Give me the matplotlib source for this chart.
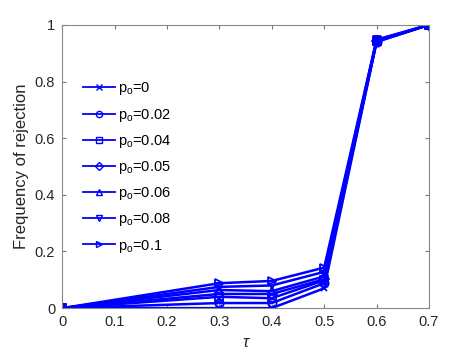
import matplotlib.pyplot as plt
import numpy as np

plt.rcParams['font.family'] = ['Liberation Sans', 'DejaVu Sans']
plt.rcParams['mathtext.default'] = 'regular'

tau = [0, 0.3, 0.4, 0.5, 0.6, 0.7]
p_o = ['0', '0.02', '0.04', '0.05', '0.06', '0.08', '0.1']
markers = ['x', 'o', 's', 'D', '^', 'v', '>']

# frequency of rejection for each p_o
freq = [
    [0, 0.000, 0.000, 0.070, 0.940, 1.0],
    [0, 0.018, 0.018, 0.088, 0.940, 1.0],
    [0, 0.040, 0.035, 0.098, 0.942, 1.0],
    [0, 0.050, 0.050, 0.102, 0.943, 1.0],
    [0, 0.064, 0.060, 0.112, 0.944, 1.0],
    [0, 0.075, 0.080, 0.128, 0.946, 1.0],
    [0, 0.088, 0.096, 0.143, 0.948, 1.0],
]

fig = plt.figure(figsize=(4.74, 3.55), dpi=100)
ax = fig.add_axes([0.131, 0.132, 0.774, 0.798])

for lab, m, y in zip(p_o, markers, freq):
    ms = 5 if m in ('x', 'D') else 6
    ax.plot(tau, y, color='blue', lw=1.8, marker=m, ms=ms,
            mfc='none', mec='blue', mew=1.3,
            label=r'p$_{o}$=' + lab)

ax.set_xlim(0, 0.7)
ax.set_ylim(0, 1)
ax.set_xticks(np.arange(0, 0.71, 0.1))
ax.set_xticklabels(['0', '0.1', '0.2', '0.3', '0.4', '0.5', '0.6', '0.7'])
ax.set_yticks([0, 0.2, 0.4, 0.6, 0.8, 1])
ax.set_yticklabels(['0', '0.2', '0.4', '0.6', '0.8', '1'])
ax.tick_params(direction='in', top=True, right=True, length=3,
               labelsize=10.5, colors='#777777', labelcolor='#262626', pad=5)
for s in ax.spines.values():
    s.set_color('#888888')
    s.set_linewidth(0.8)

ax.set_xlabel('τ', fontsize=12, style='italic', color='#262626')
ax.set_ylabel('Frequency of rejection', fontsize=12, color='#262626')

leg = ax.legend(loc='upper left', bbox_to_anchor=(0.02, 0.85), frameon=False,
                fontsize=10.5, handlelength=2.2, handletextpad=0.2,
                labelspacing=0.63)
for h in leg.legend_handles:
    h.set_markersize(4.5)
    h.set_markeredgewidth(1.0)
    h.set_linewidth(1.3)

fig.savefig('out.png', dpi=100)
